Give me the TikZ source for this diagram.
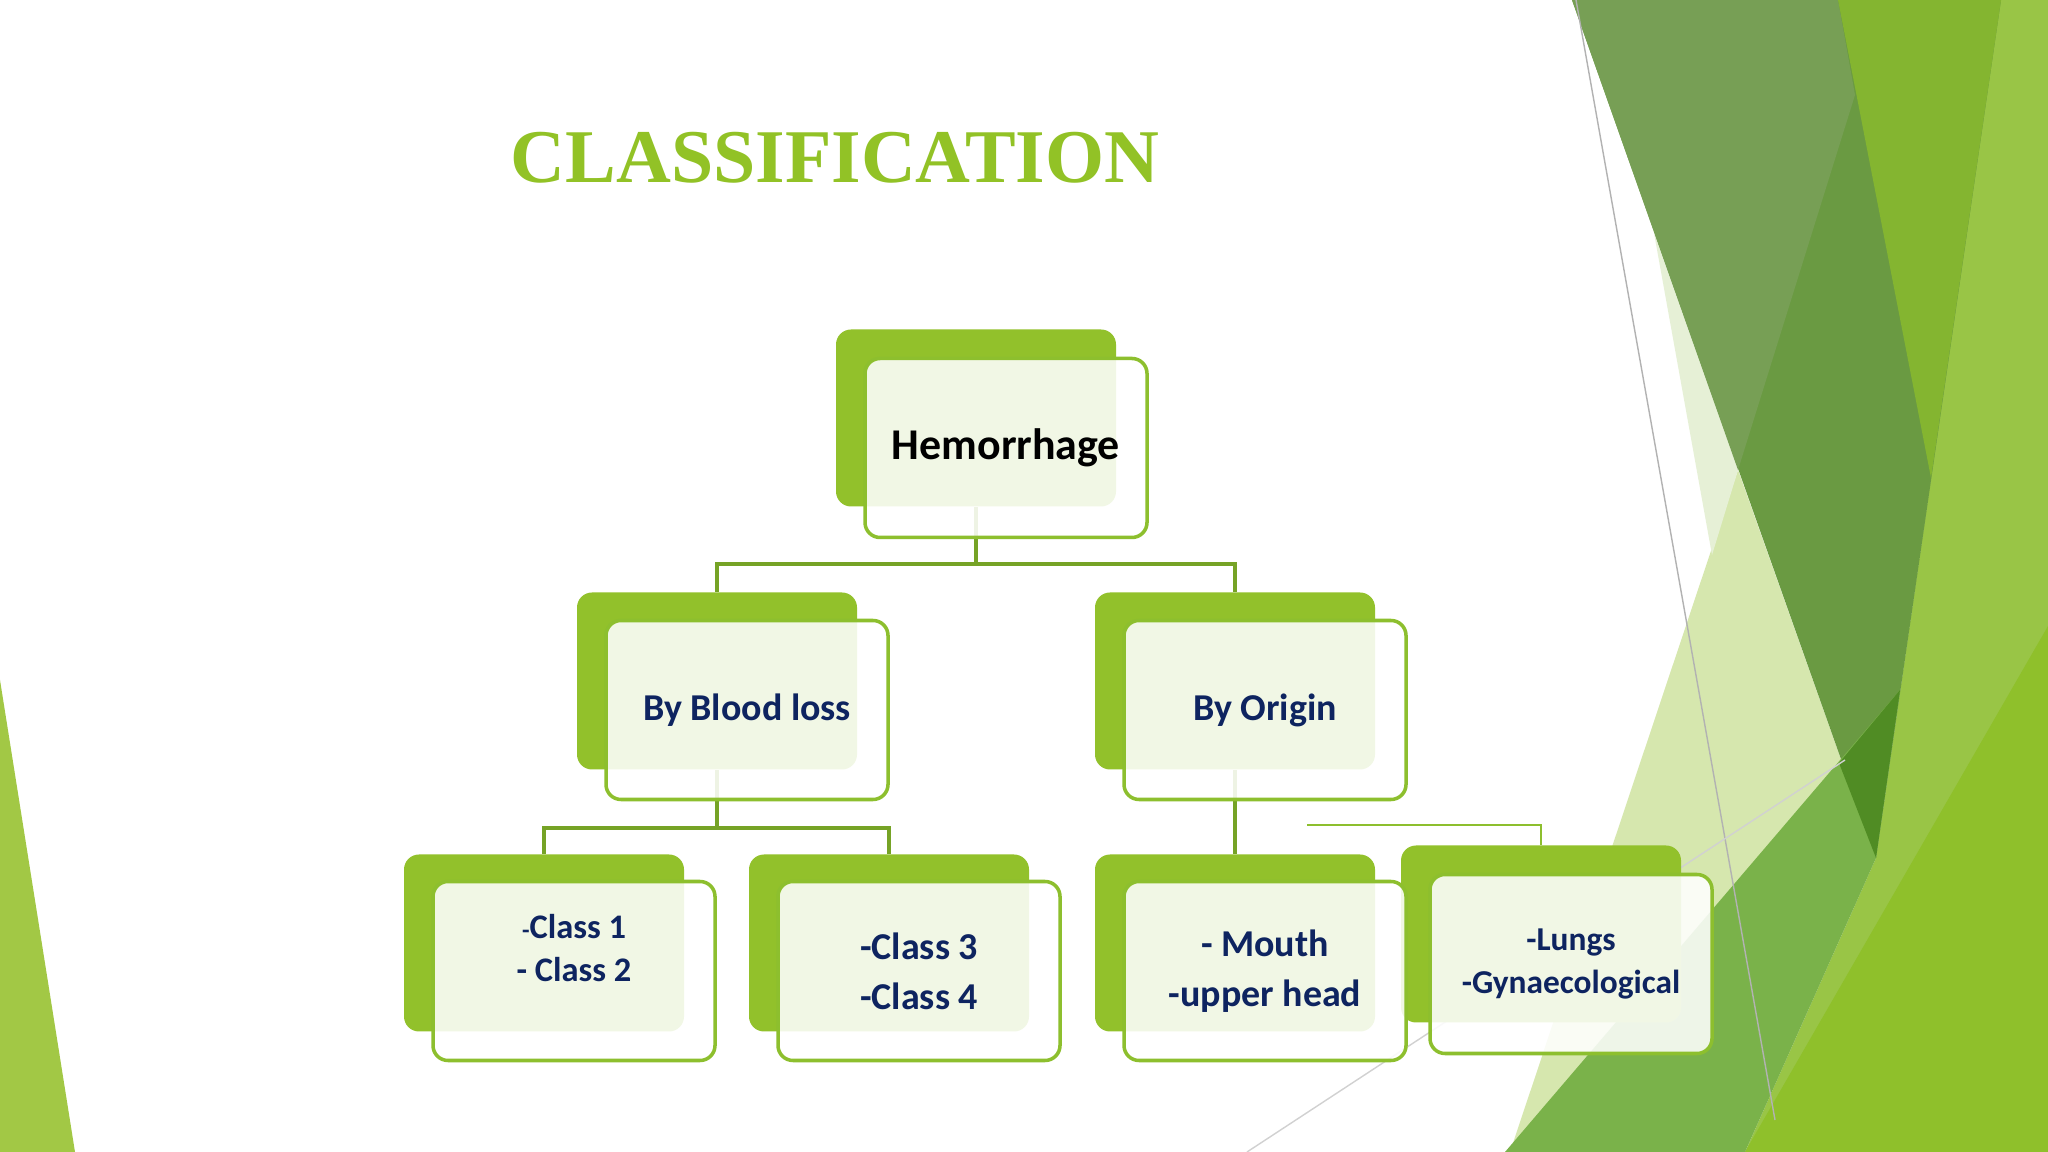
\documentclass[tikz,border=0pt]{standalone}
\usepackage{fontspec}
\newfontfamily\headfont{Liberation Serif}
\newfontfamily\boxfont{Carlito}
\usepackage{tikz}
\usetikzlibrary{positioning, calc, backgrounds}
\definecolor{LeafGreen}{RGB}{146,193,43}
\definecolor{LeafLine}{RGB}{141,191,46}
\definecolor{LinkGreen}{RGB}{118,163,38}
\definecolor{TitleGreen}{RGB}{146,194,38}
\definecolor{InkNavy}{RGB}{14,36,96}
\definecolor{LeafOlive}{RGB}{119,159,85}
\definecolor{LeafDark}{RGB}{106,154,66}
\definecolor{LeafDeep}{RGB}{80,140,36}
\definecolor{LeafLime}{RGB}{132,181,48}
\definecolor{LeafLight}{RGB}{153,197,70}
\definecolor{LeafBright}{RGB}{143,192,43}
\definecolor{LeafMid}{RGB}{122,178,74}
\definecolor{LeafPale}{RGB}{214,231,174}
\definecolor{LeafMist}{RGB}{230,240,214}
\definecolor{LeafSide}{RGB}{162,200,69}

\begin{document}
\begin{tikzpicture}[x=0.1mm, y=-0.1mm,
    back/.style={rectangle, rounded corners=1.5mm, fill=LeafGreen,
                 minimum width=28mm, minimum height=17.7mm, inner sep=0pt},
    front/.style={rectangle, rounded corners=1.5mm, draw=LeafLine, line width=1pt,
                  fill=white, fill opacity=0.88, text opacity=1,
                  minimum width=28.2mm, minimum height=17.9mm, inner sep=0pt,
                  align=center, text=InkNavy},
    link/.style={LinkGreen, line width=1.1pt},
    thin link/.style={LeafLine, line width=0.7pt},
    facetline/.style={black!30, line width=0.4pt}
  ]
  \useasboundingbox (0,0) rectangle (2048,1152);

  % facet background
  \begin{scope}[on background layer]
    \fill[white] (0,0) rectangle (2048,1152);
    \fill[LeafSide] (0,680) -- (75,1152) -- (0,1152) -- cycle;
    \fill[LeafLight] (2000,0) -- (2048,0) -- (2048,1152) -- (1745,1152) -- (1876,858) -- cycle;
    \fill[LeafBright] (1745,1152) -- (2048,626) -- (2048,1152) -- cycle;
    \fill[LeafPale] (1738,470) -- (1876,858) -- (1510,1152) -- cycle;
    \fill[LeafMist] (1654,233) -- (1738,470) -- (1712,555) -- cycle;
    \fill[LeafDark] (1572,0) -- (2001,0) -- (1876,858) -- cycle;
    \fill[LeafOlive] (1572,0) -- (1838,0) -- (1855,95) -- (1738,470) -- cycle;
    \fill[LeafLime] (1838,0) -- (2001,0) -- (1931,478) -- cycle;
    \fill[LeafMid] (1505,1152) -- (1900,690) -- (1876,858) -- (1745,1152) -- cycle;
    \fill[LeafDeep] (1839,763) -- (1900,690) -- (1876,858) -- cycle;
    \draw[facetline] (1576,0) -- (1775,1120);
    \draw[facetline, black!18] (1247,1152) -- (1845,760);
  \end{scope}

  \node[anchor=base, font=\headfont\bfseries\fontsize{21.6}{26}\selectfont,
        text=TitleGreen] (title) at (835,183) {CLASSIFICATION};

  % back plates
  \node[back] (hemB)   at (976,418)  {};
  \node[back] (bloodB) at (717,681)  {};
  \node[back] (origB)  at (1235,681) {};
  \node[back] (c12B)   at (544,943)  {};
  \node[back] (c34B)   at (889,943)  {};
  \node[back] (mouthB) at (1235,943) {};
  \node[back] (lungB)  at (1541,934) {};

  % front cards
  \node[front, text=black, font=\boxfont\bfseries\fontsize{12.5}{15}\selectfont]
        (hem) at (1006,448) {Hemorrhage};
  \node[front, font=\boxfont\bfseries\fontsize{10.8}{13}\selectfont]
        (blood) at (747,710) {By Blood loss};
  \node[front, font=\boxfont\bfseries\fontsize{10.8}{13}\selectfont]
        (orig) at (1265,710) {By Origin};
  \node[front, font=\boxfont\bfseries\fontsize{9.8}{12.2}\selectfont]
        (c12) at (574,971)
        {\raisebox{2mm}[\height][\depth]{\begin{tabular}{@{}c@{}}
         {\fontsize{7}{7}\selectfont-}Class 1\\- Class 2\end{tabular}}};
  \node[front, font=\boxfont\bfseries\fontsize{10.8}{14.2}\selectfont]
        (c34) at (919,971) {-Class 3\\-Class 4};
  \node[front, font=\boxfont\bfseries\fontsize{10.8}{14.2}\selectfont]
        (mouth) at (1265,971) {- Mouth\\-upper head};
  \node[front, font=\boxfont\bfseries\fontsize{9.5}{12.5}\selectfont]
        (lung) at (1571,964) {-Lungs\\-Gynaecological};

  \coordinate (stray) at (1307,825);

  \begin{scope}[on background layer]
    \draw[link] (hemB.south) -- ++(0,57) -| (bloodB.north);
    \draw[link] (hemB.south) -- ++(0,57) -| (origB.north);
    \draw[link] (bloodB.south) -- ++(0,58) -| (c12B.north);
    \draw[link] (bloodB.south) -- ++(0,58) -| (c34B.north);
    \draw[link] (origB.south) -- (mouthB.north);
    \draw[thin link] (stray) -| (lungB.north);
  \end{scope}
\end{tikzpicture}
\end{document}
